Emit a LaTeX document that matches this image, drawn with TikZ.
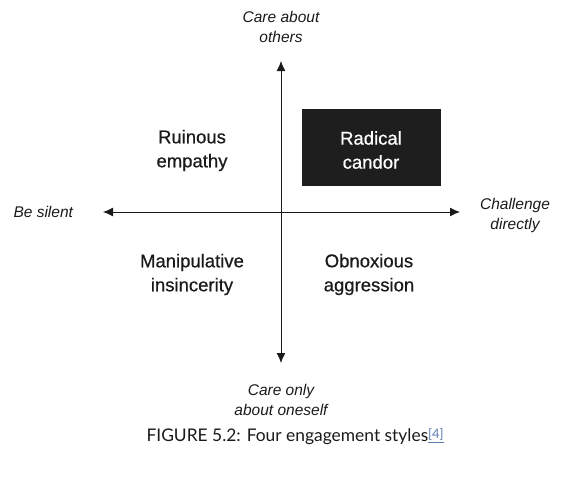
\documentclass[tikz,border=0pt]{standalone}
\usepackage{fontspec}
\setmainfont{Liberation Sans}
\newfontfamily\quadfont[FakeBold=0.6]{Liberation Sans}
\newfontfamily\axfont{Liberation Sans}
\newfontfamily\capfont{Lato}
\usetikzlibrary{arrows.meta}
\definecolor{boxfill}{HTML}{1E1E1E}
\definecolor{txt}{HTML}{1A1A1A}
\definecolor{linkblue}{HTML}{5B7DB1}
\begin{document}
\begin{tikzpicture}[x=1pt,y=-1pt,
  quad/.style={align=center,font=\quadfont\fontsize{18.5}{24}\selectfont,text=txt},
  axlabel/.style={align=center,font=\axfont\itshape\fontsize{15.5}{20}\selectfont,text=txt},
  axis/.style={line width=1pt,draw=txt,-{Latex[length=10pt,width=9pt]}}]
\useasboundingbox (0,0) rectangle (572,485);
\coordinate (c) at (281,212);
\coordinate (top) at (281,61);
\coordinate (bot) at (281,363);
\coordinate (lft) at (103,212);
\coordinate (rgt) at (460,212);
\draw[axis] (c) -- (top);
\draw[axis] (c) -- (bot);
\draw[axis] (c) -- (lft);
\draw[axis] (c) -- (rgt);
\node[fill=boxfill,minimum width=139pt,minimum height=77pt,inner sep=0pt] (rc) at (371.5,147.5) {};
\node[quad,text=white] (rct) at (371,150) {Radical\\candor};
\node[quad] (re) at (192,150.5) {Ruinous\\empathy};
\node[quad] (mi) at (192,274.5) {Manipulative\\insincerity};
\node[quad] (oa) at (369,274.5) {Obnoxious\\aggression};
\node[axlabel] (ca) at (281,26.5) {Care about\\others};
\node[axlabel,anchor=west] (bs) at (10,212) {Be silent};
\node[axlabel] (cd) at (515,215) {Challenge\\directly};
\node[axlabel] (co) at (281,400) {Care only\\about oneself};
\node[font=\capfont\fontsize{17.4}{20}\selectfont,text=txt,anchor=west] (cap) at (143,437) {FIGURE 5.2: Four engagement styles\raisebox{3pt}{\fontsize{13}{14}\selectfont\color{linkblue}\underline{[4]}}};
\end{tikzpicture}
\end{document}
